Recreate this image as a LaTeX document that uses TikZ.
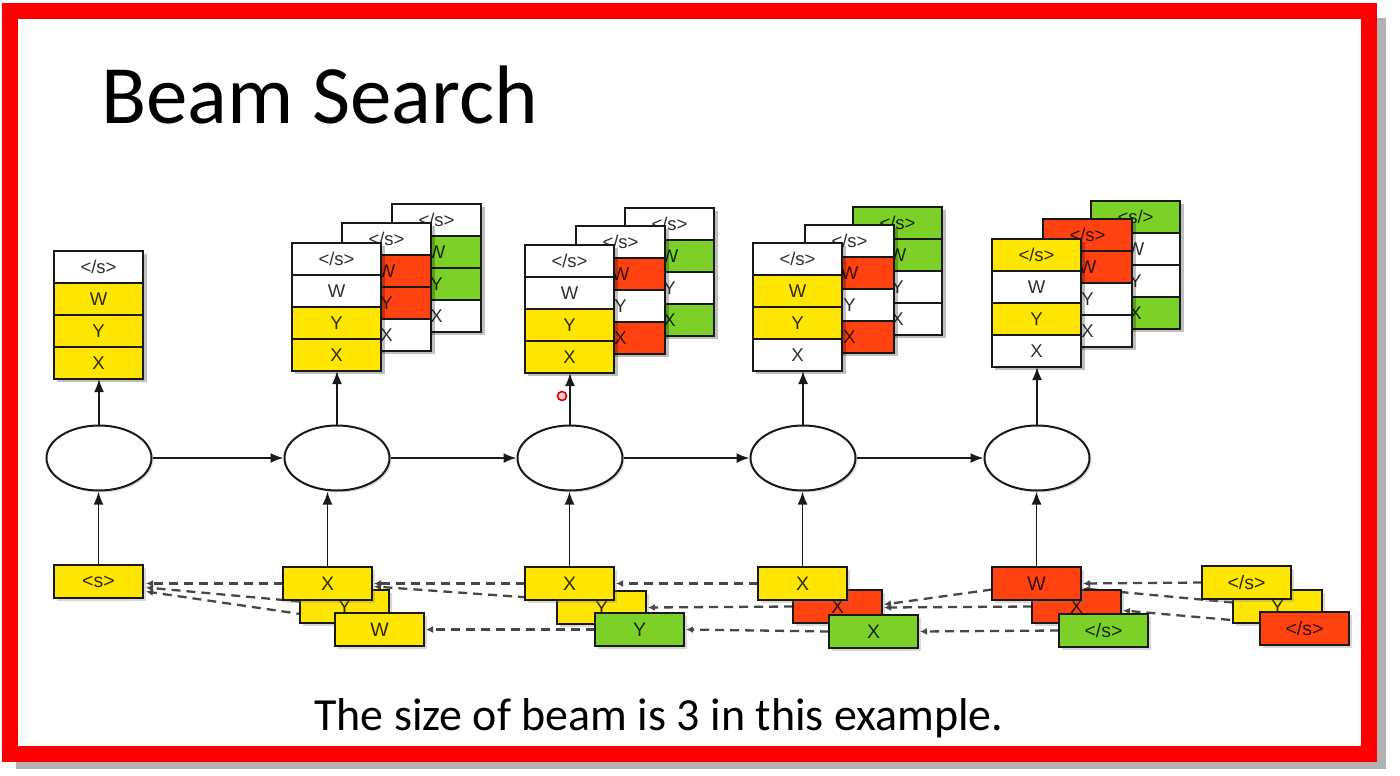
\documentclass[tikz,border=0pt]{standalone}
\usepackage{fontspec}
\setmainfont{Carlito}
\newfontfamily\cellfont{Liberation Sans}
\usetikzlibrary{arrows.meta,calc,shadows,shapes.geometric}
\pgfdeclarelayer{back}
\pgfdeclarelayer{bg}
\pgfsetlayers{back,bg,main}
\definecolor{cyel}{RGB}{255,230,0}
\definecolor{cred}{RGB}{255,66,16}
\definecolor{cgrn}{RGB}{124,208,40}
\definecolor{framered}{RGB}{255,0,0}
\tikzset{
  cell/.style={draw=black!90, line width=2pt, minimum width=89pt, minimum height=32pt,
    inner sep=0pt, outer sep=0pt, font=\cellfont\fontsize{18.5}{18.5}\selectfont, text=black, text opacity=0.82},
  tok/.style={cell, minimum height=33pt, font=\cellfont\fontsize{19.5}{19.5}\selectfont,
    drop shadow={shadow xshift=2.5pt, shadow yshift=-2.5pt, opacity=0.3}},
  rnn/.style={ellipse, draw=black!90, line width=2pt, fill=white, inner sep=0pt,
    minimum width=105pt, minimum height=65pt,
    drop shadow={shadow xshift=2pt, shadow yshift=-2pt, opacity=0.25}},
  flow/.style={-{Latex[length=13pt,width=10pt]}, line width=1.8pt, black!90},
  bp/.style={-{Latex[length=7pt,width=7pt]}, dash pattern=on 9pt off 6pt, line width=2.3pt, black!72},
}
\newcommand\mkstack[8]{%
  \fill[black, opacity=0.25] ({#2+3},{#3+3}) rectangle ++(90,128);
  \node[cell, fill=#4, anchor=north west] (#1a) at (#2,#3) {#8};
  \node[cell, fill=#5, anchor=north] (#1b) at (#1a.south) {W};
  \node[cell, fill=#6, anchor=north] (#1c) at (#1b.south) {Y};
  \node[cell, fill=#7, anchor=north] (#1d) at (#1c.south) {X};
}
\begin{document}
\begin{tikzpicture}[x=1pt,y=-1pt]
\useasboundingbox (0,0) rectangle (1400,776);
\begin{pgfonlayer}{back}
  \fill[white] (0,0) rectangle (1400,776);
  \fill[black!30] (16,18) rectangle (1386,769);
  \draw[framered, line width=16pt] (10,11) rectangle (1369,754);
  \fill[white] (18,19) rectangle (1361,746);
\end{pgfonlayer}

% title and caption
\node[anchor=base west, inner sep=0pt, font=\fontsize{83}{83}\selectfont] (title) at (101,123) {Beam Search};
\node[anchor=base west, inner sep=0pt, font=\fontsize{46}{46}\selectfont] (caption) at (314,730) {The size of beam is 3 in this example.};

% output stacks
\mkstack{sa}{54}{251}{white}{cyel}{cyel}{cyel}{</s>}
\mkstack{sbk}{392}{204}{white}{cgrn}{cgrn}{white}{</s>}
\mkstack{sbm}{342}{223}{white}{cred}{cred}{white}{</s>}
\mkstack{sbf}{292}{243}{white}{white}{cyel}{cyel}{</s>}
\mkstack{sck}{625}{208}{white}{cgrn}{white}{cgrn}{</s>}
\mkstack{scm}{576}{226}{white}{cred}{white}{cred}{</s>}
\mkstack{scf}{525}{245}{white}{white}{cyel}{cyel}{</s>}
\mkstack{sdk}{853}{207}{cgrn}{cgrn}{white}{white}{</s>}
\mkstack{sdm}{805}{225}{white}{cred}{white}{cred}{</s>}
\mkstack{sdf}{753}{243}{white}{cyel}{cyel}{white}{</s>}
\mkstack{sek}{1091}{201}{cgrn}{white}{white}{cgrn}{<s/>}
\mkstack{sem}{1043}{219}{cred}{cred}{white}{white}{</s>}
\mkstack{sef}{992}{239}{cyel}{white}{cyel}{white}{</s>}

% RNN cells
\node[rnn] (e1) at (99,458) {};
\node[rnn] (e2) at (337,458) {};
\node[rnn] (e3) at (570,458) {};
\node[rnn] (e4) at (803,458) {};
\node[rnn] (e5) at (1037,458) {};

% input tokens
\node[tok, fill=cyel, anchor=north west] (t1) at (54,565) {<s>};

\node[tok, fill=cyel, anchor=north west] (b2b) at (300,590) {Y};
\node[tok, fill=cyel, anchor=north west] (b2a) at (283,567) {X};
\node[tok, fill=cyel, anchor=north west] (b2c) at (335,613) {W};

\node[tok, fill=cyel, anchor=north west] (b3b) at (557,591) {Y};
\node[tok, fill=cyel, anchor=north west] (b3a) at (525,567) {X};
\node[tok, fill=cgrn, anchor=north west] (b3c) at (595,613) {Y};

\node[tok, fill=cred, anchor=north west] (b4b) at (793,590) {X};
\node[tok, fill=cyel, anchor=north west] (b4a) at (758,567) {X};
\node[tok, fill=cgrn, anchor=north west] (b4c) at (829,615) {X};

\node[tok, fill=cred, anchor=north west] (b5b) at (1032,590) {X};
\node[tok, fill=cred, anchor=north west] (b5a) at (992,567) {W};
\node[tok, fill=cgrn, anchor=north west] (b5c) at (1059,614) {</s>};

\node[tok, fill=cyel, anchor=north west] (b6b) at (1233,590) {Y};
\node[tok, fill=cyel, anchor=north west] (b6a) at (1202,566) {</s>};
\node[tok, fill=cred, anchor=north west] (b6c) at (1260,612) {</s>};

% cursor mark
\draw[red!85!black, line width=1.6pt, fill=red!20] (562,396) circle (4.5);

% solid arrows
\draw[flow] (e1.east) -- (e2.west);
\draw[flow] (e2.east) -- (e3.west);
\draw[flow] (e3.east) -- (e4.west);
\draw[flow] (e4.east) -- (e5.west);
\draw[flow] (e1.north) -- (e1.north |- sad.south);
\draw[flow] (e2.north) -- (e2.north |- sbfd.south);
\draw[flow] (e3.north) -- (e3.north |- scfd.south);
\draw[flow] (e4.north) -- (e4.north |- sdfd.south);
\draw[flow] (e5.north) -- (e5.north |- sefd.south);
\draw[flow] (t1.north) -- (t1.north |- e1.south);
\draw[flow] (b2a.north) -- (b2a.north |- e2.south);
\draw[flow] (b3a.north) -- (b3a.north |- e3.south);
\draw[flow] (b4a.north) -- (b4a.north |- e4.south);
\draw[flow] (b5a.north) -- (b5a.north |- e5.south);

% back pointers
\begin{pgfonlayer}{bg}
  \draw[bp] (b2a.west) -- ($(t1.east)+(3,2)$);
  \draw[bp] ($(b2b.west)+(0,-5)$) -- ($(t1.east)+(3,6)$);
  \draw[bp] ($(b2c.north west)+(0,6)$) -- ($(t1.east)+(3,10)$);

  \draw[bp] (b3a.west) -- ($(b2a.east)+(2,0)$);
  \draw[bp] ($(b3b.west)+(0,-8)$) -- ($(b2a.east)+(2,3)$);
  \draw[bp] (b3c.west) -- ($(b2c.east)+(2,0)$);

  \draw[bp] (b4a.west) -- ($(b3a.east)+(2,0)$);
  \draw[bp] (b4b.west) -- ($(b3b.east)+(2,0)$);
  \draw[bp] (b4c.west) -- ($(b3c.east)+(2,0)$);

  \draw[bp] ($(b5a.west)+(0,6)$) -- ($(b4b.east)+(2,-2)$);
  \draw[bp] (b5b.west) -- ($(b4b.east)+(2,1)$);
  \draw[bp] (b5c.west) -- ($(b4c.east)+(2,0)$);

  \draw[bp] (b6a.west) -- ($(b5a.east)+(2,0)$);
  \draw[bp] ($(b6b.west)+(0,-4)$) -- ($(b5a.east)+(2,5)$);
  \draw[bp] ($(b6c.west)+(0,-6)$) -- ($(b5b.east)+(2,4)$);
\end{pgfonlayer}
\end{tikzpicture}
\end{document}
